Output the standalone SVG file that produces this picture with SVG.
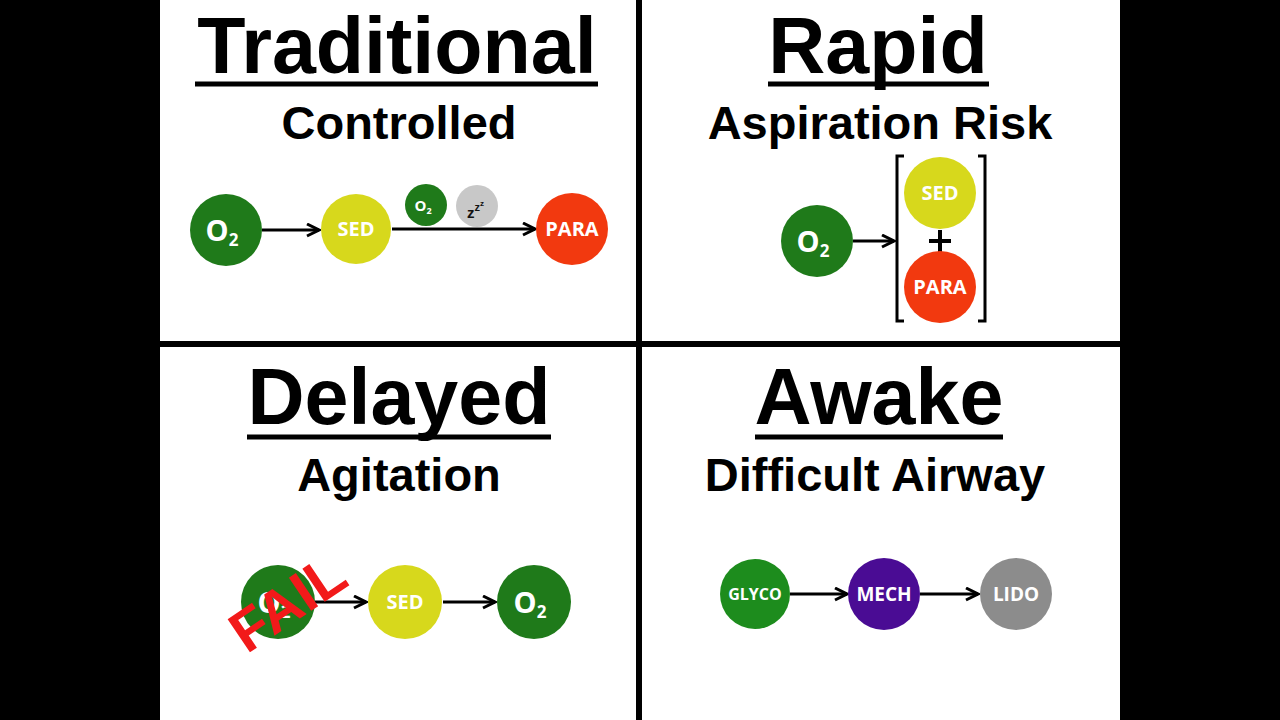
<svg xmlns="http://www.w3.org/2000/svg" width="1280" height="720" viewBox="0 0 1280 720">
<defs>
<style>
.t{font-family:"Liberation Sans",Arial,sans-serif;font-weight:bold;text-anchor:middle;fill:#000}
.h{font-size:79px}
.s{font-size:47px}
.n{font-family:"Open Sans","Liberation Sans",sans-serif;font-weight:bold;text-anchor:middle;fill:#fff}
.ul{stroke:#000;stroke-width:5}
.c{stroke:#000;stroke-width:3;fill:none;marker-end:url(#ah)}
</style>
<marker id="ah" viewBox="0 0 10 10" refX="9" refY="5" markerWidth="5" markerHeight="5" orient="auto" markerUnits="strokeWidth">
<path d="M1,1 L9,5 L1,9" fill="none" stroke="#000" stroke-width="2"/>
</marker>
</defs>
<rect width="1280" height="720" fill="#000"/>
<rect x="160" y="0" width="960" height="720" fill="#fff"/>
<rect x="636" y="0" width="6" height="720" fill="#000"/>
<rect x="160" y="341" width="960" height="6" fill="#000"/>

<g id="titles">
<text class="t h" x="397" y="73">Traditional</text>
<line class="ul" x1="195" y1="84" x2="598" y2="84"/>
<text class="t s" x="399" y="139">Controlled</text>
<text class="t h" x="878" y="73">Rapid</text>
<line class="ul" x1="768" y1="84" x2="989" y2="84"/>
<text class="t s" x="880" y="139">Aspiration Risk</text>
<text class="t h" x="399" y="424">Delayed</text>
<line class="ul" x1="247" y1="437" x2="551" y2="437"/>
<text class="t s" x="399" y="491">Agitation</text>
<text class="t h" x="879" y="424">Awake</text>
<line class="ul" x1="755" y1="437" x2="1003" y2="437"/>
<text class="t s" x="875" y="491">Difficult Airway</text>
</g>

<g id="connectors">
<line class="c" x1="262" y1="230" x2="319" y2="230"/>
<line class="c" x1="392" y1="229" x2="535" y2="229"/>
<line class="c" x1="853" y1="241" x2="894" y2="241"/>
<line class="c" x1="315" y1="602" x2="366" y2="602"/>
<line class="c" x1="443" y1="602" x2="495" y2="602"/>
<line class="c" x1="790" y1="594" x2="847" y2="594"/>
<line class="c" x1="920" y1="594" x2="978" y2="594"/>
</g>

<g id="t-o2">
<circle cx="226" cy="230" r="36" fill="#1f7a1a"/>
<text class="n" x="222" y="241" font-size="29">O<tspan font-size="17" dy="5">2</tspan></text>
</g>
<g id="t-sed">
<circle cx="356" cy="229" r="35" fill="#d7d81c"/>
<text class="n" x="356" y="236" font-size="20">SED</text>
</g>
<g id="t-o2small">
<circle cx="426" cy="205" r="21" fill="#1f7a1a"/>
<text class="n" x="423" y="211" font-size="15">O<tspan font-size="9" dy="3">2</tspan></text>
</g>
<g id="t-zzz">
<circle cx="477" cy="206" r="21" fill="#c8c8c8"/>
<text font-family="'Liberation Sans',sans-serif" font-weight="bold" fill="#111" x="467" y="218" font-size="15">z<tspan font-size="11" dy="-7">z</tspan><tspan font-size="8" dy="-5">z</tspan></text>
</g>
<g id="t-para">
<circle cx="572" cy="229" r="36" fill="#f2390f"/>
<text class="n" x="572" y="236" font-size="20">PARA</text>
</g>

<g id="r-o2">
<circle cx="817" cy="241" r="36" fill="#1f7a1a"/>
<text class="n" x="813" y="252" font-size="29">O<tspan font-size="17" dy="5">2</tspan></text>
</g>
<g id="r-bracket">
<path d="M904,156 H897 V321 H904 M978,156 H985 V321 H978" fill="none" stroke="#000" stroke-width="3"/>
<path d="M940,230 V252 M929,241 H951" stroke="#000" stroke-width="4"/>
</g>
<g id="r-sed">
<circle cx="940" cy="193" r="36" fill="#d7d81c"/>
<text class="n" x="940" y="200" font-size="20">SED</text>
</g>
<g id="r-para">
<circle cx="940" cy="287" r="36" fill="#f2390f"/>
<text class="n" x="940" y="294" font-size="20">PARA</text>
</g>

<g id="d-o2">
<circle cx="278" cy="602" r="37" fill="#1f7a1a"/>
<text class="n" x="274" y="613" font-size="29">O<tspan font-size="17" dy="5">2</tspan></text>
</g>
<g id="d-fail">
<text font-family="'Liberation Sans',Arial,sans-serif" font-weight="bold" font-size="58" fill="#f21a1a" text-anchor="middle" transform="translate(287,602) rotate(-34)" y="21">FAIL</text>
</g>
<g id="d-sed">
<circle cx="405" cy="602" r="37" fill="#d7d81c"/>
<text class="n" x="405" y="609" font-size="20">SED</text>
</g>
<g id="d-o2b">
<circle cx="534" cy="602" r="37" fill="#1f7a1a"/>
<text class="n" x="530" y="613" font-size="29">O<tspan font-size="17" dy="5">2</tspan></text>
</g>

<g id="a-glyco">
<circle cx="755" cy="594" r="35" fill="#1d8c1d"/>
<text class="n" x="755" y="600" font-size="16">GLYCO</text>
</g>
<g id="a-mech">
<circle cx="884" cy="594" r="36" fill="#4a0c94"/>
<text class="n" x="884" y="601" font-size="19">MECH</text>
</g>
<g id="a-lido">
<circle cx="1016" cy="594" r="36" fill="#8c8c8c"/>
<text class="n" x="1016" y="601" font-size="19">LIDO</text>
</g>
</svg>
